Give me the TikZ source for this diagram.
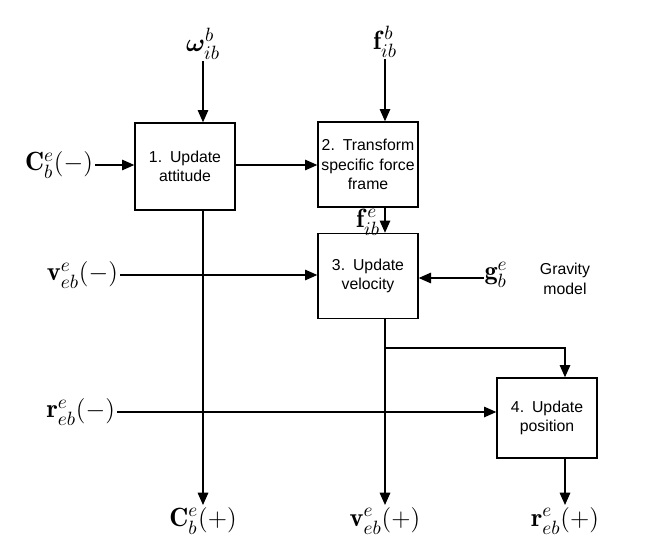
\documentclass[tikz,border=0pt]{standalone}
\usepackage{amsmath}
\usepackage{bm}
\usepackage{fontspec}
\setsansfont{Liberation Sans}
\usetikzlibrary{arrows.meta,positioning,calc}
\tikzset{
  blk/.style={rectangle,draw,thick,minimum width=2cm,minimum height=1.7cm,text width=2cm,inner sep=0pt,align=center,font=\sffamily\fontsize{9}{11}\selectfont},
  lbl/.style={inner sep=1pt,font=\fontsize{15}{17}\selectfont},
  flow/.style={-{Triangle[length=7pt,width=6pt]},thick}
}
\begin{document}
\begin{tikzpicture}[x=0.02cm,y=-0.02cm]
  \useasboundingbox (0,0) rectangle (658,550);
  % Nodes
  \node[blk,minimum height=1.74cm] (att) at (185,166.5) {1. Update\\attitude};
  \node[blk] (trf) at (368,164.5) {2. Transform\\specific force\\frame};
  \node[blk] (vel) at (368,276) {3. Update\\velocity};
  \node[blk,minimum height=1.6cm] (pos) at (547,418) {4. Update\\position};
  \node[lbl] (om) at (203,44) {$\bm{\omega}^{b}_{ib}$};
  \node[lbl] (fb) at (385,42) {$\mathbf{f}^{\,b}_{ib}$};
  \node[lbl,anchor=east] (cin) at (95,165) {$\mathbf{C}^{e}_{b}(-)$};
  \node[lbl,anchor=east] (fe) at (382,222) {$\mathbf{f}^{\,e}_{ib}$};
  \node[lbl,anchor=east] (vin) at (120,275) {$\mathbf{v}^{e}_{eb}(-)$};
  \node[lbl,anchor=east] (rin) at (117,412) {$\mathbf{r}^{e}_{eb}(-)$};
  \node[lbl] (g) at (496,275) {$\mathbf{g}^{e}_{b}$};
  \node[font=\sffamily\fontsize{9}{11}\selectfont,align=center] (grav) at (565,279) {Gravity\\model};
  \node[lbl,anchor=north] (cout) at (203,505) {$\mathbf{C}^{e}_{b}(+)$};
  \node[lbl,anchor=north] (vout) at (385,505) {$\mathbf{v}^{e}_{eb}(+)$};
  \node[lbl,anchor=north] (rout) at (565,505) {$\mathbf{r}^{e}_{eb}(+)$};
  \coordinate (split) at (385,348);
  \coordinate (gw) at (484,278);

  % Arrows
  \draw[flow] (om) -- (om |- att.north);
  \draw[flow] (fb) -- (fb |- trf.north);
  \draw[flow] (cin) -- (cin -| att.west);
  \draw[flow] (att.east |- cin) -- (trf.west |- cin);
  \draw[flow] (trf.south -| fb) -- (vel.north -| fb);
  \draw[flow] (vin) -- (vin -| vel.west);
  \draw[flow] (gw) -- (gw -| vel.east);
  \draw[flow] (rin) -- (rin -| pos.west);
  \draw[flow] (att.south -| om) -- (cout.north);
  \draw[flow] (vel.south -| fb) -- (vout.north);
  \draw[flow] (split) -| (pos.north -| rout);
  \draw[flow] (pos.south -| rout) -- (rout.north);
\end{tikzpicture}
\end{document}
